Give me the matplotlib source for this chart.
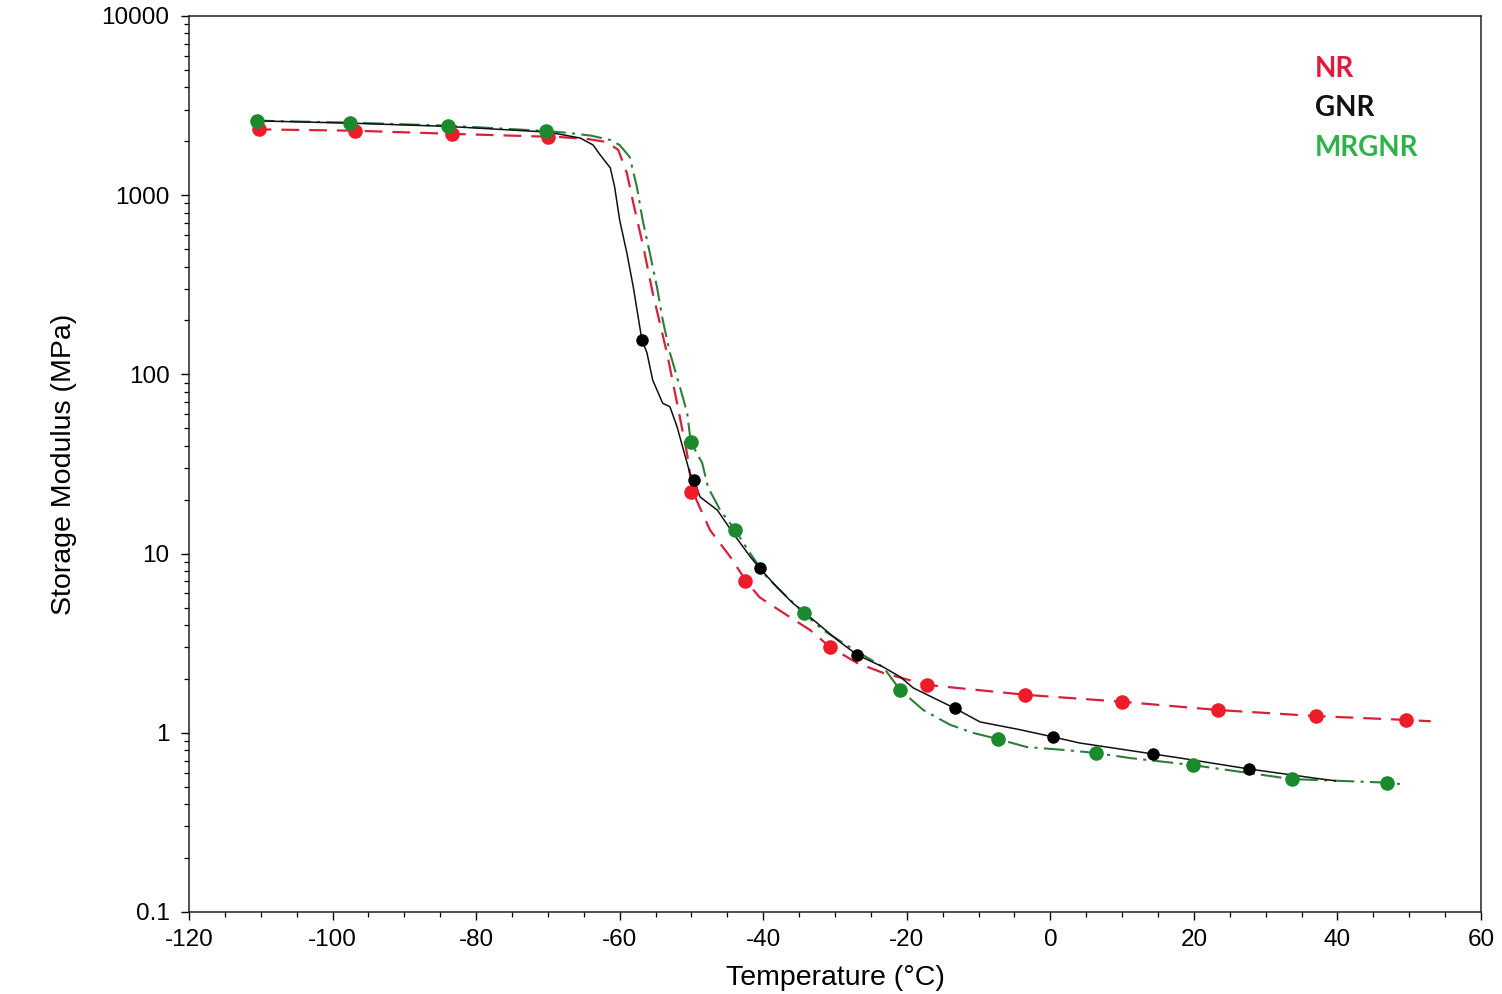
import numpy as np
import matplotlib
matplotlib.use('Agg')
import matplotlib.pyplot as plt
from matplotlib.ticker import FixedLocator, FixedFormatter, LogLocator, MultipleLocator, NullFormatter

plt.rcParams['font.family'] = ['Liberation Sans', 'DejaVu Sans']
plt.rcParams['axes.unicode_minus'] = False

# ── data ─────────────────────────────────────────────────────────────────────
# NR (red, dashed)
nr_T = [-111.0, -110.2, -96.9, -83.4, -70.0, -68.3, -64.5, -61.8, -60.2, -59.0,
        -58.1, -56.7, -55.4, -53.4, -52.0, -50.6, -49.9, -47.4, -44.6, -42.3,
        -40.5, -37.2, -33.5, -30.7, -26.9, -23.3, -17.2, -3.5, 10.0, 23.4,
        37.0, 49.5, 53.0]
nr_E = [2335, 2330, 2290, 2200, 2120, 2110, 2060, 1980, 1790, 1330,
        904, 514, 285, 131, 69, 36, 22.5, 13.5, 9.6, 6.95,
        5.7, 4.67, 3.75, 3.01, 2.45, 2.16, 1.85, 1.63, 1.49, 1.34,
        1.24, 1.18, 1.16]
nr_mT = [-110.2, -96.9, -83.4, -70.0, -50.1, -42.5, -30.7, -17.2, -3.5, 10.0, 23.4, 37.0, 49.5]
nr_mE = [2330, 2290, 2200, 2120, 22.0, 7.0, 3.02, 1.85, 1.63, 1.49, 1.34, 1.24, 1.18]

# GNR (black, solid)
gnr_T = [-111.0, -110.5, -97.0, -84.0, -70.0, -65.5, -63.7, -62.7, -61.3, -60.7,
         -60.0, -59.0, -58.1, -57.2, -56.9, -56.2, -55.4, -54.0, -53.0, -52.0,
         -51.2, -50.2, -49.6, -48.8, -46.4, -44.2, -41.8, -40.5, -38.1, -35.9,
         -32.5, -29.7, -26.9, -23.3, -20.9, -19.1, -13.3, -9.8, -4.2, 0.4,
         4.1, 14.3, 18.1, 27.7, 37.6, 39.7]
gnr_E = [2600, 2600, 2520, 2420, 2250, 2085, 1906, 1676, 1419, 1111,
         727, 476, 307, 184, 156, 132, 93, 69, 66, 51,
         39, 28, 25.7, 20.7, 17.5, 13.0, 9.6, 8.3, 6.5, 5.3,
         4.1, 3.3, 2.72, 2.33, 2.05, 1.78, 1.37, 1.15, 1.04, 0.948,
         0.877, 0.762, 0.723, 0.628, 0.553, 0.54]
gnr_mT = [-56.9, -49.6, -40.5, -26.9, -13.3, 0.4, 14.3, 27.7]
gnr_mE = [156, 25.7, 8.3, 2.72, 1.37, 0.948, 0.762, 0.628]

# MRGNR (green, dash-dot)
mrg_T = [-111.0, -110.5, -97.6, -83.9, -70.3, -67.3, -64.0, -61.3, -60.0, -58.6,
         -57.6, -56.8, -55.8, -54.8, -54.0, -53.0, -51.6, -50.6, -50.1, -48.5,
         -47.7, -46.0, -43.9, -41.8, -39.5, -37.2, -34.3, -31.7, -27.9, -23.3,
         -20.9, -17.7, -14.0, -10.8, -7.3, -3.3, 2.3, 6.4, 11.1, 17.1,
         19.9, 33.6, 46.9, 48.7]
mrg_E = [2610, 2606, 2541, 2444, 2282, 2230, 2150, 2032, 1905, 1634,
         1111, 727, 476, 307, 201, 132, 85, 61, 42.1, 32,
         23.5, 17.5, 13.5, 10.0, 7.4, 6.0, 4.65, 3.75, 3.0, 2.33,
         1.73, 1.34, 1.11, 1.0, 0.923, 0.833, 0.80, 0.771, 0.723, 0.68,
         0.66, 0.552, 0.527, 0.518]
mrg_mT = [-110.5, -97.6, -83.9, -70.3, -50.1, -43.9, -34.3, -20.9, -7.3, 6.4, 19.9, 33.6, 46.9]
mrg_mE = [2606, 2541, 2444, 2282, 42.1, 13.5, 4.65, 1.73, 0.923, 0.771, 0.66, 0.552, 0.527]

x_ticks = [-120, -100, -80, -60, -40, -20, 0, 20, 40, 60]
y_ticks = [0.1, 1, 10, 100, 1000, 10000]
y_labels = ['0.1', '1', '10', '100', '1000', '10000']
series_names = ['NR', 'GNR', 'MRGNR']

# ── figure ───────────────────────────────────────────────────────────────────
fig = plt.figure(figsize=(15.02, 9.94), dpi=100)
ax = fig.add_axes([189 / 1502, 1 - 912 / 994, 1292 / 1502, 896 / 994])

ax.plot(nr_T, nr_E, color='#d8203a', lw=1.6, ls=(0, (8, 4.5)), zorder=2)
ax.plot(mrg_T, mrg_E, color='#2e7d3a', lw=1.5, ls=(0, (10, 3, 1.5, 3)), zorder=2)
ax.plot(gnr_T, gnr_E, color='#111111', lw=1.1, zorder=3)

ax.plot(nr_mT, nr_mE, 'o', color='#ee1c2a', ms=10.5, mec='none', zorder=4)
ax.plot(mrg_mT, mrg_mE, 'o', color='#1b8a2c', ms=10.5, mec='none', zorder=5)
ax.plot(gnr_mT, gnr_mE, 'o', color='#000000', ms=9, mec='none', zorder=6)

ax.set_yscale('log')
ax.set_xlim(-120, 60)
ax.set_ylim(0.1, 10000)
ax.xaxis.set_major_locator(FixedLocator(x_ticks))
ax.xaxis.set_minor_locator(MultipleLocator(5))
ax.yaxis.set_major_locator(FixedLocator(y_ticks))
ax.yaxis.set_major_formatter(FixedFormatter(y_labels))
ax.yaxis.set_minor_locator(LogLocator(base=10, subs=np.arange(2, 10), numticks=20))
ax.yaxis.set_minor_formatter(NullFormatter())

ax.tick_params(axis='both', which='major', direction='out', length=6, width=1.0,
               labelsize=17.5)
ax.tick_params(axis='x', which='major', pad=6)
ax.tick_params(axis='y', which='major', pad=8)
ax.tick_params(axis='both', which='minor', direction='out', length=3.5, width=0.9)
ax.tick_params(right=False, top=False, which='both')
for sp in ax.spines.values():
    sp.set_linewidth(1.1)
    sp.set_color('#222222')

ax.set_xlabel('Temperature (°C)', fontsize=20.5, labelpad=10)
ax.set_ylabel('Storage Modulus (MPa)', fontsize=20.5, labelpad=18)

legend_colors = ['#e0193f', '#111111', '#2db34a']
legend_y = [0.941, 0.897, 0.853]
for name, c, yy in zip(series_names, legend_colors, legend_y):
    ax.text(0.8715, yy, name, transform=ax.transAxes, color=c,
            fontsize=20, fontweight='bold', family=['Lato', 'DejaVu Sans'],
            ha='left', va='center')

fig.savefig('out.png', dpi=100, facecolor='white')
plt.close(fig)
